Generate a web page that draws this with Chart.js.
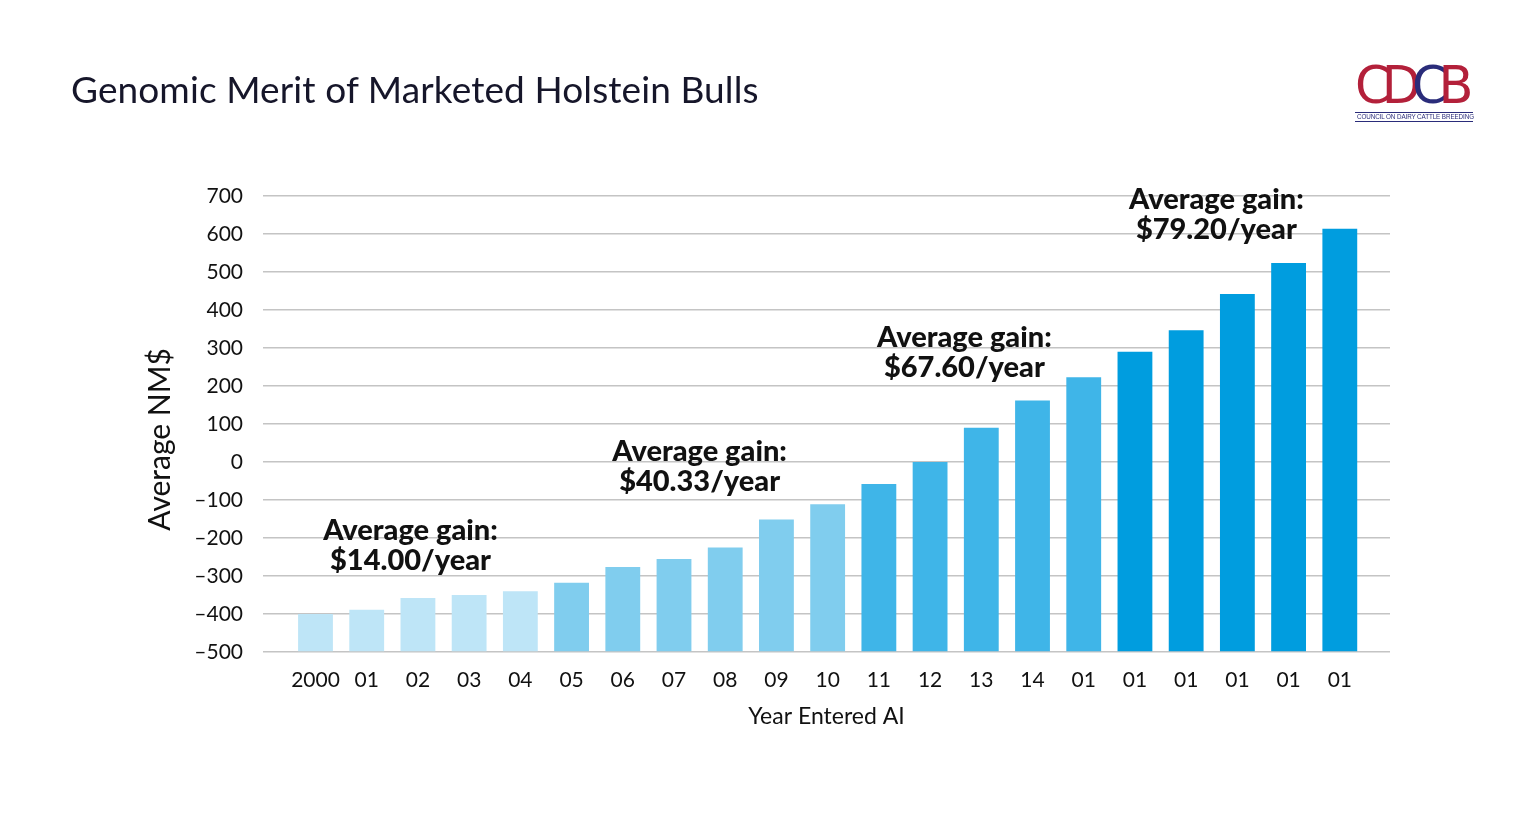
<!DOCTYPE html>
<html>
<head>
<meta charset="utf-8">
<script src="https://cdn.jsdelivr.net/npm/chart.js@4.4.1/dist/chart.umd.min.js"></script>
<style>
  html, body { margin: 0; padding: 0; background: #fff; width: 1536px; height: 826px; overflow: hidden; }
  #wrap { position: relative; width: 1536px; height: 826px; }
  #c { position: absolute; left: 0; top: 0; }
  #title { position: absolute; left: 71px; top: 66px; font-family: Lato, sans-serif; font-size: 37px; color: #16162a; letter-spacing: 0.1px; white-space: nowrap; }
  #logo { position: absolute; left: 1355px; top: 59px; width: 122px; text-align: left; }
  #logo .big { font-family: "DejaVu Sans", sans-serif; font-size: 51px; line-height: 53px; letter-spacing: -9px; white-space: nowrap; }
  #logo .r { color: #b3203a; }
  #logo .n { color: #2a2c7a; }
  #logo .small { font-family: "Liberation Sans", sans-serif; font-size: 6.3px; color: #2a2c7a; border-top: 1px solid #2a2c7a; border-bottom: 1px solid #2a2c7a; padding: 0 0 1px 2px; width: 116px; white-space: nowrap; letter-spacing: -0.1px; }
</style>
</head>
<body>
<div id="wrap">
  <canvas id="c" width="1536" height="826"></canvas>
  <div id="title">Genomic Merit of Marketed Holstein Bulls</div>
  <div id="logo">
    <div class="big"><span class="r">C</span><span class="r">D</span><span class="n">C</span><span class="r">B</span></div>
    <div class="small">COUNCIL ON DAIRY CATTLE BREEDING</div>
  </div>
</div>
<script>
// ---- data ----
const yearLabels = ['2000','01','02','03','04','05','06','07','08','09','10','11','12','13','14','01','01','01','01','01','01'];
const averageNM = [-400,-389,-358,-350,-340,-318,-276,-255,-225,-151,-111,-58,0,90,162,223,290,347,442,524,614];
const gainPeriodEnds = [4, 10, 15, 20]; // last index of each period
const gainTexts = [['Average gain:','$14.00/year'],['Average gain:','$40.33/year'],['Average gain:','$67.60/year'],['Average gain:','$79.20/year']];
const yTicks = [-500,-400,-300,-200,-100,0,100,200,300,400,500,600,700];

// ---- styles ----
const periodColors = ['#bee5f7','#80cdee','#3fb5e8','#009ddf'];
const noteAnchors = [{x:1.855,y:-221},{x:7.50,y:-13},{x:12.67,y:287},{x:17.59,y:652}];
const FONT = 'Lato, sans-serif';

function colorFor(i){
  for (let p=0;p<gainPeriodEnds.length;p++) if (i<=gainPeriodEnds[p]) return periodColors[p];
  return periodColors[periodColors.length-1];
}

const notesPlugin = {
  id: 'notes',
  afterDatasetsDraw(chart){
    const {ctx, scales:{x,y}} = chart;
    ctx.save();
    ctx.fillStyle = '#111';
    ctx.font = '900 29px ' + FONT;
    ctx.textAlign = 'center';
    ctx.textBaseline = 'middle';
    gainTexts.forEach((lines, k) => {
      const px = x.getPixelForValue(noteAnchors[k].x);
      const py = y.getPixelForValue(noteAnchors[k].y);
      ctx.fillText(lines[0], px, py - 15);
      ctx.fillText(lines[1], px, py + 15);
    });
    ctx.restore();
  }
};

new Chart(document.getElementById('c'), {
  type: 'bar',
  data: {
    datasets: [{
      data: averageNM.map((v,i)=>({x:i, y:v})),
      base: -500,
      backgroundColor: (c)=>colorFor(c.dataIndex),
      borderWidth: 0,
      barPercentage: 0.68,
      categoryPercentage: 1
    }]
  },
  options: {
    responsive: false,
    animation: false,
    devicePixelRatio: 1,
    layout: { padding: { left: 140, right: 146, top: 196, bottom: 84 } },
    plugins: { legend: { display: false }, tooltip: { enabled: false } },
    scales: {
      x: {
        type: 'linear',
        offset: false,
        min: -1.025,
        max: 20.98,
        afterBuildTicks: (s) => { s.ticks = yearLabels.map((_,i)=>({value:i})); },
        afterFit: (s) => { s.height = 90; },
        grid: { display: false, drawTicks: false },
        border: { display: false },
        ticks: {
          autoSkip: false,
          maxRotation: 0,
          padding: 16,
          color: '#111',
          font: { family: FONT, size: 21 },
          callback: (v) => yearLabels[v] ?? ''
        },
        title: { display: true, text: 'Year Entered AI', color: '#111', font: { family: FONT, size: 23 }, padding: { top: 0, bottom: 12 } }
      },
      y: {
        min: -500,
        max: 700,
        afterBuildTicks: (s) => { s.ticks = yTicks.map(v=>({value:v})); },
        afterFit: (s) => { s.width = 123; },
        grid: { color: '#c4c4c4', lineWidth: 1.5, drawTicks: false },
        border: { display: false },
        ticks: {
          padding: 20,
          color: '#111',
          font: { family: FONT, size: 21 },
          callback: (v) => (v < 0 ? '\u2013' + Math.abs(v) : String(v))
        },
        title: { display: true, text: 'Average NM$    ', color: '#111', font: { family: FONT, size: 30 }, padding: { top: 2, bottom: 0 } }
      }
    }
  },
  plugins: [notesPlugin]
});
</script>
</body>
</html>
